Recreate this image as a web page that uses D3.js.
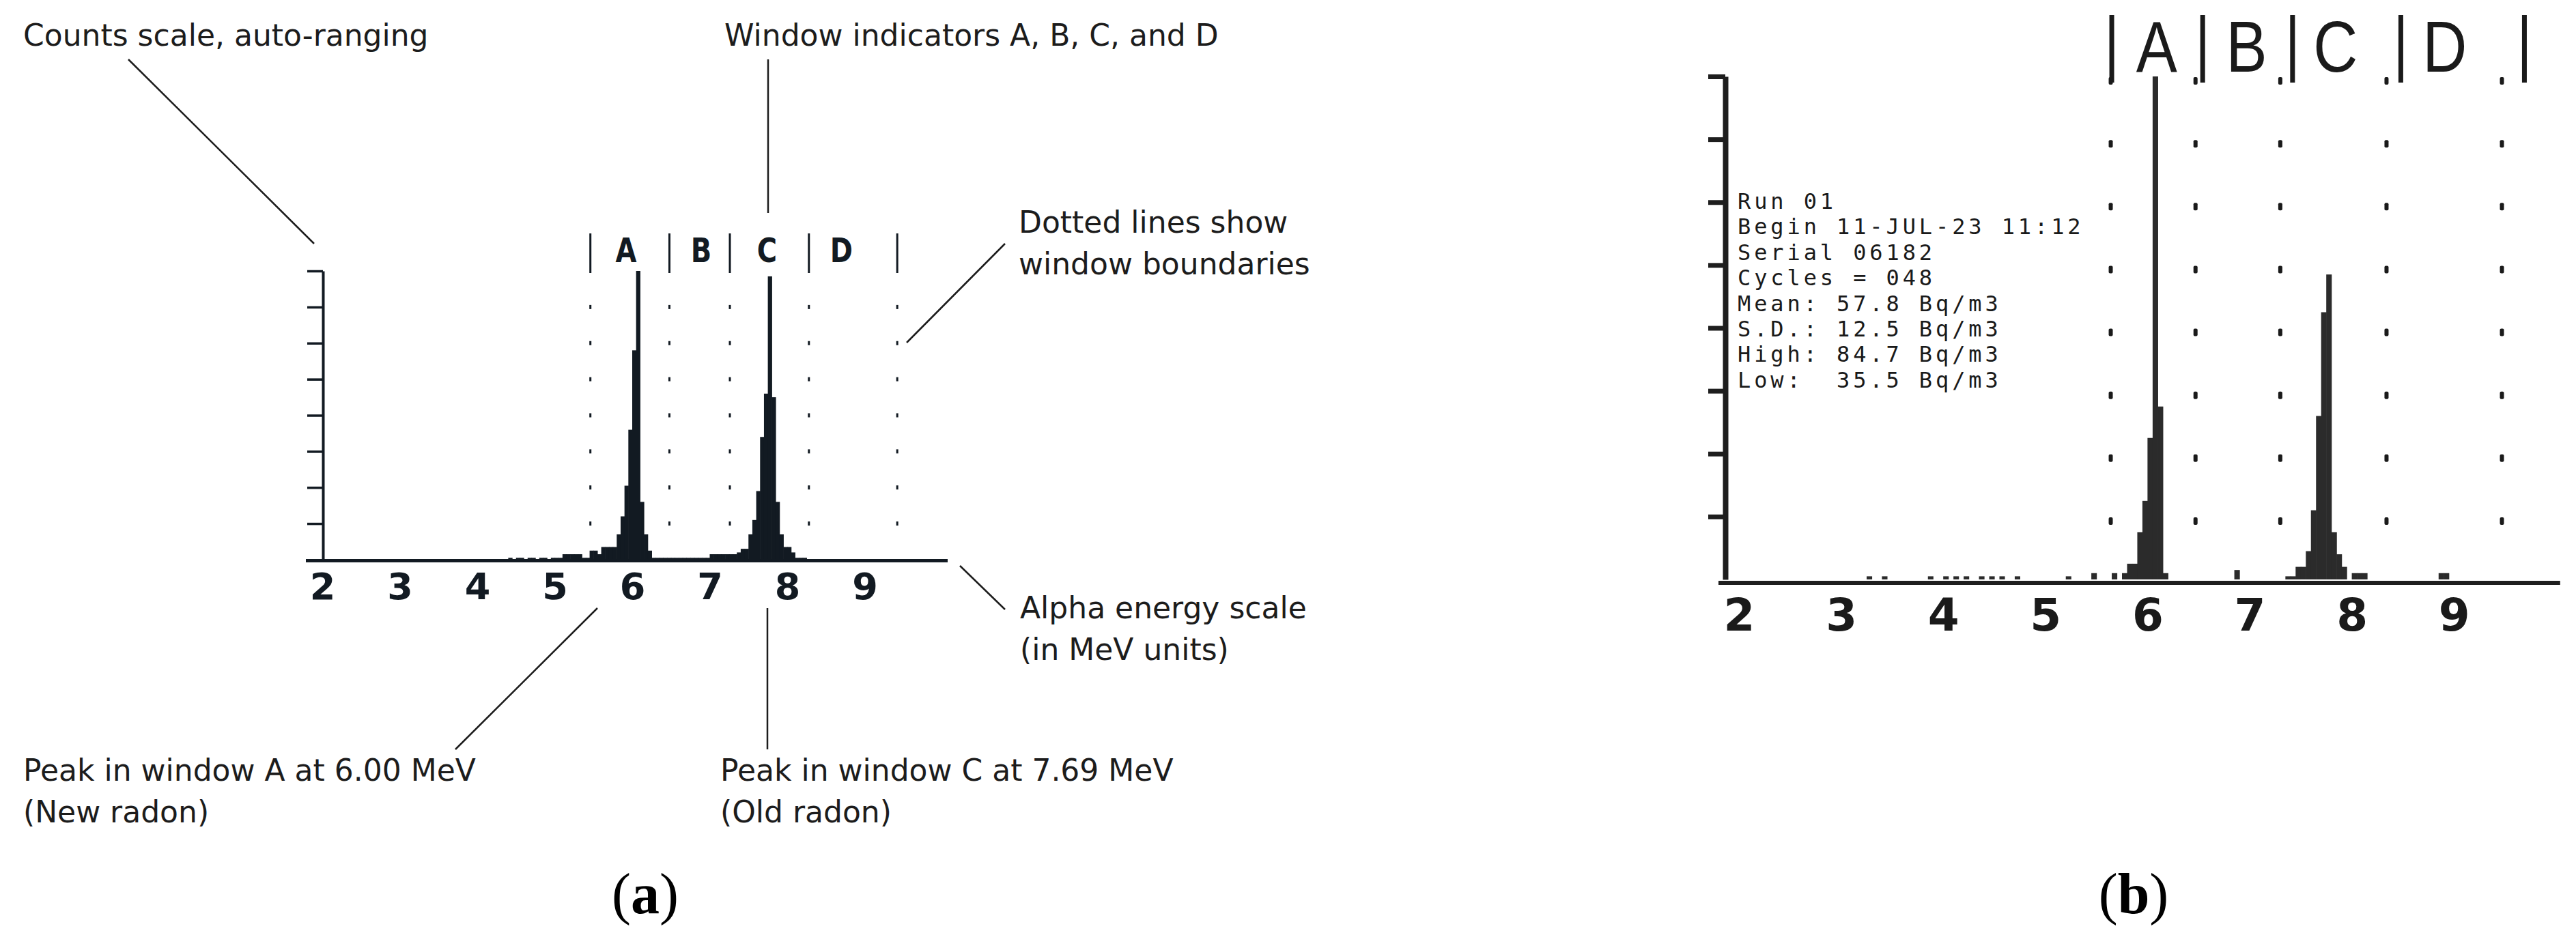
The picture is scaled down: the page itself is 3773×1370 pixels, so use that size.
<!DOCTYPE html>
<meta charset="utf-8">
<style>
  body { margin: 0; background: #fff; }
</style>
<svg width="3773" height="1370"></svg>
<script src="https://cdn.jsdelivr.net/npm/d3@7"></script>
<script>
	// shared
	var energyTicks = [2, 3, 4, 5, 6, 7, 8, 9];          // MeV
	var countTicks = [20, 40, 60, 80, 100, 120, 140, 160]; // 8 auto-range divisions
	var windowNames = ["A", "B", "C", "D"];
	var channelWidth = 0.05;                              // MeV per channel

	// panel (a): annotated spectrum, channel lower edge (MeV) and counts
	var energiesA = [4.40, 4.50, 4.55, 4.65, 4.70, 4.80, 4.85, 4.95, 5.00, 5.05,
		5.10, 5.15, 5.20, 5.25, 5.30, 5.35, 5.40, 5.45, 5.50, 5.55,
		5.60, 5.65, 5.70, 5.75, 5.80, 5.85, 5.90, 5.95, 6.00, 6.05,
		6.10, 6.15, 6.20, 6.25, 6.30, 6.35, 6.40, 6.45, 6.50, 6.55,
		6.60, 6.65, 6.70, 6.75, 6.80, 6.85, 6.90, 6.95, 7.00, 7.05,
		7.10, 7.15, 7.20, 7.25, 7.30, 7.35, 7.40, 7.45, 7.50, 7.55,
		7.60, 7.65, 7.70, 7.75, 7.80, 7.85, 7.90, 7.95, 8.00, 8.05,
		8.10, 8.15, 8.20];
	var countsA = [1, 1, 1, 1, 1, 1, 1, 1, 1, 1,
		3, 3, 3, 3, 3, 1, 1, 5, 5, 3,
		7, 7, 7, 7, 14, 24, 41, 72, 116, 160,
		32, 14, 5, 1, 1, 1, 1, 1, 1, 1,
		1, 1, 1, 1, 1, 1, 1, 1, 3, 3,
		3, 3, 3, 3, 3, 4, 6, 6, 14, 22,
		38, 68, 92, 157, 90, 32, 14, 7, 7, 4,
		1, 1, 1];
	var windowEdgesA = [5.46, 6.48, 7.26, 8.28, 9.42];
	var windowLabelAtA = [5.92, 6.89, 7.74, 8.70];
	var dotLevelsA = [20, 40, 60, 80, 100, 120, 140];

	// panel (b): printed spectrum
	var energiesB = [3.25, 3.40, 3.85, 4.00, 4.10, 4.20, 4.35, 4.45, 4.55, 4.70, 5.20, 5.45, 5.65,
		5.75, 5.80, 5.85, 5.90, 5.95, 6.00, 6.05, 6.10, 6.15, 6.85,
		7.35, 7.40, 7.45, 7.50, 7.55, 7.60, 7.65, 7.70, 7.75, 7.80, 7.85, 7.90,
		8.00, 8.05, 8.10, 8.85, 8.90];
	var countsB = [1, 1, 1, 1, 1, 1, 1, 1, 1, 1, 1, 2, 2,
		2, 5, 5, 15, 25, 45, 160, 55, 2, 3,
		1, 1, 4, 4, 9, 22, 52, 85, 97, 15, 8, 4,
		2, 2, 2, 2, 2];
	var markerEdgesB = [5.65, 6.54, 7.42, 8.48, 9.69];
	var dotEdgesB = [5.64, 6.47, 7.30, 8.34, 9.47];
	var windowLabelAtB = [6.09, 6.97, 7.84, 8.91];
	var runInfo = ["Run 01", "Begin 11-JUL-23 11:12", "Serial 06182", "Cycles = 048",
		"Mean: 57.8 Bq/m3", "S.D.: 12.5 Bq/m3", "High: 84.7 Bq/m3", "Low:  35.5 Bq/m3"];

	var svg = d3.select("svg");
	var inkA = "#121a22", inkB = "#2b2b2b";
	var note = "DejaVu Sans";
	var fmt = d3.format("d");

	// ---------------- panel (a)
	var xA = d3.scaleLinear().domain([2, 9]).range([472, 1266.5]);
	var yA = d3.scaleLinear().domain([0, 160]).range([820, 397]);
	var gA = svg.append("g");

	gA.selectAll("rect.bin")
		.data(d3.zip(energiesA, countsA))
		.join("rect")
		.attr("class", "bin")
		.attr("x", d => xA(d[0]))
		.attr("width", d => xA(d[0] + channelWidth) - xA(d[0]) + 0.6)
		.attr("y", d => yA(d[1]))
		.attr("height", d => yA(0) - yA(d[1]))
		.attr("fill", inkA);

	gA.append("g")
		.attr("transform", "translate(" + (xA(2) + 1) + ",0)")
		.attr("color", inkA)
		.call(d3.axisLeft(yA).tickValues(countTicks).tickSize(23).tickSizeOuter(0).tickFormat(""))
		.call(g => g.select(".domain").attr("stroke-width", 4))
		.call(g => g.selectAll(".tick line").attr("stroke-width", 3.5));

	gA.append("line")
		.attr("x1", xA(2) - 24).attr("x2", xA(10) + 8)
		.attr("y1", yA(0) + 1.5).attr("y2", yA(0) + 1.5)
		.attr("stroke", inkA).attr("stroke-width", 5);

	gA.append("g")
		.attr("transform", "translate(0," + (yA(0) + 1) + ")")
		.call(d3.axisBottom(xA).tickValues(energyTicks).tickFormat(fmt).tickSize(0).tickPadding(19))
		.call(g => g.select(".domain").remove())
		.attr("font-family", "DejaVu Sans").attr("font-weight", "bold").attr("font-size", 54)
		.selectAll("text").attr("fill", inkA);

	gA.selectAll("line.win")
		.data(windowEdgesA)
		.join("line")
		.attr("class", "win")
		.attr("x1", d => xA(d)).attr("x2", d => xA(d))
		.attr("y1", 342).attr("y2", 400)
		.attr("stroke", inkA).attr("stroke-width", 3);

	gA.selectAll("text.win")
		.data(windowNames)
		.join("text")
		.attr("class", "win")
		.attr("transform", (d, i) => "translate(" + xA(windowLabelAtA[i]) + ",384) scale(0.8,1)")
		.attr("text-anchor", "middle")
		.attr("font-family", "DejaVu Sans").attr("font-weight", "bold").attr("font-size", 50)
		.attr("fill", inkA)
		.text(d => d);

	gA.selectAll("rect.dot")
		.data(d3.cross(windowEdgesA, dotLevelsA))
		.join("rect")
		.attr("class", "dot")
		.attr("x", d => xA(d[0]) - 1.5).attr("y", d => yA(d[1]) - 3)
		.attr("width", 3).attr("height", 6)
		.attr("fill", inkA);

	// annotations of (a)
	var notes = [
		{x: 34, y: 67, lines: ["Counts scale, auto-ranging"]},
		{x: 1061, y: 67, lines: ["Window indicators A, B, C, and D"]},
		{x: 1492, y: 341, lines: ["Dotted lines show", "window boundaries"]},
		{x: 1494, y: 906, lines: ["Alpha energy scale", "(in MeV units)"]},
		{x: 34, y: 1144, lines: ["Peak in window A at 6.00 MeV", "(New radon)"]},
		{x: 1055, y: 1144, lines: ["Peak in window C at 7.69 MeV", "(Old radon)"]}
	];
	var leaders = [
		[188, 87, 460, 357],
		[1125, 87, 1125, 312],
		[1472, 357, 1328, 502],
		[1406, 829, 1472, 893],
		[875, 891, 667, 1098],
		[1124, 891, 1124, 1098]
	];
	notes.forEach(function(n) {
		var t = svg.append("text")
			.attr("font-family", note).attr("font-size", 44).attr("fill", "#1c1c1c");
		n.lines.forEach(function(s, i) {
			t.append("tspan").attr("x", n.x).attr("y", n.y + i * 61).text(s);
		});
	});
	svg.selectAll("line.leader")
		.data(leaders)
		.join("line")
		.attr("class", "leader")
		.attr("x1", d => d[0]).attr("y1", d => d[1])
		.attr("x2", d => d[2]).attr("y2", d => d[3])
		.attr("stroke", "#1c1c1c").attr("stroke-width", 2.5);

	// ---------------- panel (b)
	var xB = d3.scaleLinear().domain([2, 9]).range([2547, 3594.2]);
	var yB = d3.scaleLinear().domain([0, 160]).range([849, 112]);
	var gB = svg.append("g");

	gB.selectAll("rect.bin")
		.data(d3.zip(energiesB, countsB))
		.join("rect")
		.attr("class", "bin")
		.attr("x", d => xB(d[0]))
		.attr("width", d => xB(d[0] + channelWidth) - xB(d[0]) + 0.6)
		.attr("y", d => yB(d[1]))
		.attr("height", d => yB(0) - yB(d[1]))
		.attr("fill", inkB);

	gB.append("g")
		.attr("transform", "translate(" + (xB(2) - 20) + ",0)")
		.attr("color", "#1e1e1e")
		.call(d3.axisLeft(yB).tickValues(countTicks).tickSize(25).tickSizeOuter(0).tickFormat(""))
		.call(g => g.select(".domain").attr("stroke-width", 8))
		.call(g => g.selectAll(".tick line").attr("stroke-width", 7));

	gB.append("line")
		.attr("x1", xB(2) - 30).attr("x2", xB(10) + 6)
		.attr("y1", yB(0) + 5).attr("y2", yB(0) + 5)
		.attr("stroke", "#1e1e1e").attr("stroke-width", 6);

	gB.append("g")
		.attr("transform", "translate(0," + (yB(0) + 5) + ")")
		.call(d3.axisBottom(xB).tickValues(energyTicks).tickFormat(fmt).tickSize(0).tickPadding(23))
		.call(g => g.select(".domain").remove())
		.attr("font-family", "DejaVu Sans").attr("font-weight", "bold").attr("font-size", 66)
		.selectAll("text").attr("fill", "#1a1a1a");

	gB.selectAll("line.win")
		.data(markerEdgesB)
		.join("line")
		.attr("class", "win")
		.attr("x1", d => xB(d)).attr("x2", d => xB(d))
		.attr("y1", 22).attr("y2", 121)
		.attr("stroke", "#1a1a1a").attr("stroke-width", 7);

	gB.selectAll("text.win")
		.data(windowNames)
		.join("text")
		.attr("class", "win")
		.attr("transform", (d, i) => "translate(" + xB(windowLabelAtB[i]) + ",105) scale(0.85,1)")
		.attr("text-anchor", "middle")
		.attr("font-family", "Liberation Sans").attr("font-size", 106)
		.attr("fill", "#1a1a1a")
		.text(d => d);

	gB.selectAll("rect.dot")
		.data(d3.cross(dotEdgesB, countTicks))
		.join("rect")
		.attr("class", "dot")
		.attr("x", d => xB(d[0]) - 3).attr("y", d => yB(d[1]) + 1)
		.attr("width", 6).attr("height", 11).attr("rx", 2)
		.attr("fill", "#1a1a1a");

	// run summary printed inside the plot, fixed 24.2 px character pitch
	gB.selectAll("text.info")
		.data(runInfo)
		.join("text")
		.attr("class", "info")
		.attr("x", xB(2) - 2)
		.attr("y", (d, i) => 306 + i * 37.4)
		.attr("font-family", "DejaVu Sans Mono").attr("font-size", 32)
		.attr("letter-spacing", 4.9)
		.attr("fill", "#1a1a1a").style("white-space", "pre")
		.text(d => d);

	// panel captions
	[["a", 945], ["b", 3125]].forEach(function(c) {
		var t = svg.append("text")
			.attr("x", c[1]).attr("y", 1338)
			.attr("text-anchor", "middle")
			.attr("font-family", "Liberation Serif").attr("font-size", 84).attr("fill", "#000");
		t.append("tspan").text("(");
		t.append("tspan").attr("font-weight", "bold").text(c[0]);
		t.append("tspan").text(")");
	});
</script>
